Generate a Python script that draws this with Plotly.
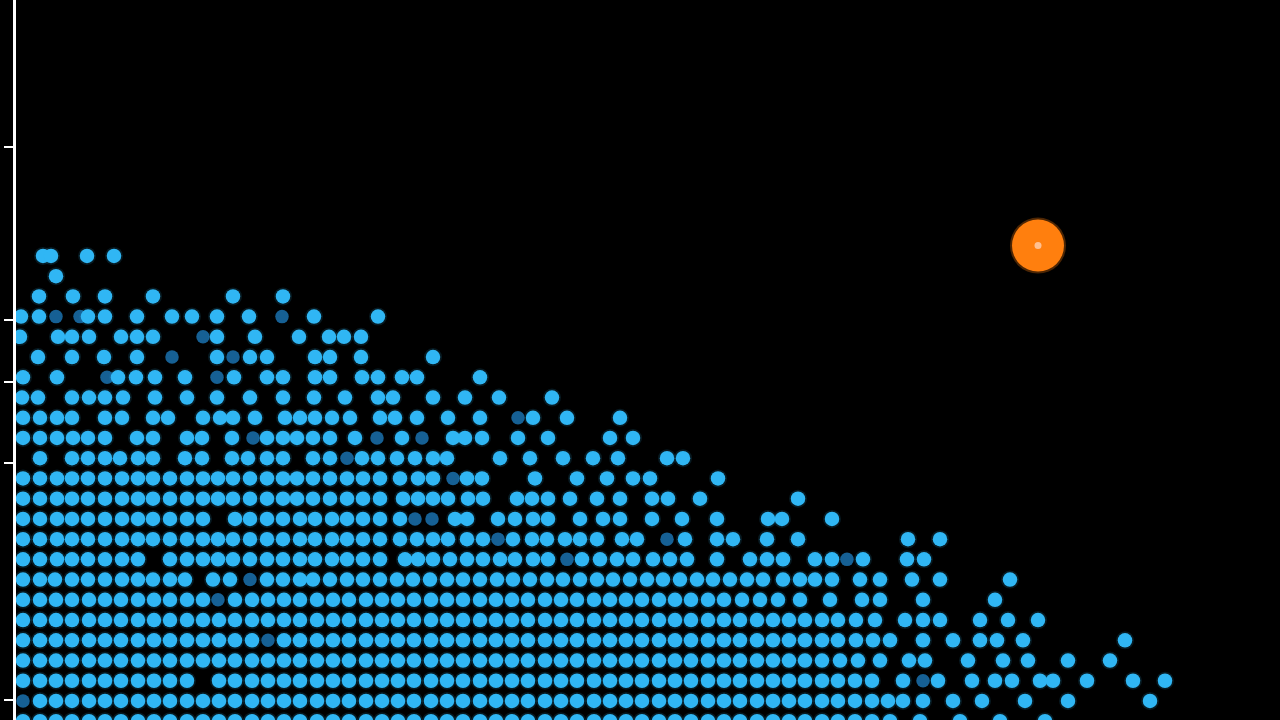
import plotly.graph_objects as go

# ---- Data: x position (value units) of every dot, one list per stacked row (row 0 = bottom) ----
row_00 = [23, 40, 56, 72, 89, 105, 121, 138, 154, 170, 187, 203, 219, 235, 252, 268, 284, 300, 317, 333,
          349, 366, 382, 398, 414, 431, 447, 463, 480, 496, 512, 528, 545, 561, 577, 594, 610, 626, 642, 659,
          675, 691, 708, 724, 740, 757, 773, 789, 805, 822, 838, 855, 872, 890, 920, 960, 1000, 1045]
row_01 = [40, 56, 72, 89, 105, 121, 138, 154, 170, 187, 203, 219, 235, 252, 268, 284, 300, 317, 333, 349,
          366, 382, 398, 414, 431, 447, 463, 480, 496, 512, 528, 545, 561, 577, 594, 610, 626, 642, 659, 675,
          691, 708, 724, 740, 757, 773, 789, 805, 822, 838, 855, 872, 888, 903, 923, 953, 982, 1025, 1068, 1150]
row_02 = [23, 40, 56, 72, 89, 105, 121, 138, 154, 170, 187, 219, 235, 252, 268, 284, 300, 317, 333, 349,
          366, 382, 398, 414, 431, 447, 463, 480, 496, 512, 528, 545, 561, 577, 594, 610, 626, 642, 659, 675,
          691, 708, 724, 740, 757, 773, 789, 805, 822, 838, 855, 872, 903, 938, 972, 995, 1012, 1040, 1053,
          1087, 1133, 1165]
row_03 = [23, 40, 56, 72, 89, 105, 121, 138, 154, 170, 187, 203, 219, 235, 252, 268, 284, 300, 317, 333,
          349, 366, 382, 398, 414, 431, 447, 463, 480, 496, 512, 528, 545, 561, 577, 594, 610, 626, 642, 659,
          675, 691, 708, 724, 740, 757, 773, 789, 805, 822, 840, 858, 880, 909, 925, 968, 1003, 1028, 1068, 1110]
row_04 = [23, 40, 56, 72, 89, 105, 121, 138, 154, 170, 187, 203, 219, 235, 252, 284, 300, 317, 333, 349,
          366, 382, 398, 414, 431, 447, 463, 480, 496, 512, 528, 545, 561, 577, 594, 610, 626, 642, 659, 675,
          691, 708, 724, 740, 757, 773, 789, 805, 822, 838, 856, 873, 890, 923, 953, 980, 997, 1023, 1125]
row_05 = [23, 40, 56, 72, 89, 105, 121, 138, 154, 170, 187, 203, 219, 235, 252, 268, 284, 300, 317, 333,
          349, 366, 382, 398, 414, 431, 447, 463, 480, 496, 512, 528, 545, 561, 577, 594, 610, 626, 642, 659,
          675, 691, 708, 724, 740, 757, 773, 789, 805, 822, 838, 856, 875, 905, 923, 940, 980, 1008, 1038]
row_06 = [23, 40, 56, 72, 89, 105, 121, 138, 154, 170, 187, 203, 235, 252, 268, 284, 300, 317, 333, 349,
          366, 382, 398, 414, 431, 447, 463, 480, 496, 512, 528, 545, 561, 577, 594, 610, 626, 642, 659, 675,
          691, 708, 724, 742, 760, 778, 800, 830, 862, 880, 923, 995]
row_07 = [23, 40, 55, 72, 88, 105, 122, 138, 153, 170, 185, 213, 230, 267, 283, 300, 313, 330, 347, 363,
          380, 397, 413, 430, 447, 463, 480, 497, 513, 530, 547, 563, 580, 597, 613, 630, 647, 663, 680, 697,
          713, 730, 747, 763, 783, 800, 815, 832, 860, 880, 912, 940, 1010]
row_08 = [23, 40, 57, 72, 88, 105, 122, 138, 170, 187, 203, 218, 233, 250, 267, 283, 300, 315, 332, 347,
          363, 380, 405, 418, 433, 450, 467, 483, 500, 515, 533, 548, 582, 600, 617, 633, 653, 670, 687, 717,
          750, 767, 783, 815, 832, 863, 907, 924]
row_09 = [23, 40, 57, 72, 88, 105, 122, 138, 153, 170, 187, 203, 218, 233, 250, 267, 283, 300, 315, 332,
          347, 363, 380, 400, 417, 433, 448, 467, 483, 513, 532, 547, 565, 580, 597, 622, 637, 685, 717, 733,
          767, 798, 908, 940]
row_10 = [23, 40, 57, 72, 88, 105, 122, 138, 153, 170, 187, 203, 235, 250, 267, 283, 300, 315, 332, 347,
          363, 380, 400, 455, 467, 498, 515, 533, 548, 580, 603, 620, 652, 682, 717, 768, 782, 832]
row_11 = [23, 40, 57, 72, 88, 105, 122, 138, 153, 170, 187, 203, 218, 233, 250, 267, 283, 297, 313, 330,
          347, 363, 380, 403, 418, 433, 448, 468, 483, 517, 532, 548, 570, 597, 620, 652, 668, 700, 798]
row_12 = [23, 40, 57, 72, 88, 105, 122, 138, 153, 170, 187, 203, 218, 233, 250, 267, 283, 297, 313, 330,
          347, 363, 380, 400, 418, 433, 467, 482, 535, 577, 607, 633, 650, 718]
row_13 = [40, 72, 88, 105, 120, 138, 153, 185, 202, 232, 248, 267, 283, 313, 330, 362, 378, 397, 415, 433,
          447, 500, 530, 563, 593, 618, 667, 683]
row_14 = [23, 40, 57, 73, 88, 105, 137, 153, 187, 202, 232, 267, 283, 297, 313, 330, 355, 402, 453, 465,
          482, 518, 548, 610, 633]
row_15 = [23, 40, 57, 72, 105, 122, 153, 168, 203, 220, 233, 255, 285, 300, 315, 332, 350, 380, 395, 417,
          448, 480, 533, 567, 620]
row_16 = [22, 38, 72, 89, 105, 123, 155, 187, 217, 250, 283, 314, 345, 378, 393, 433, 465, 499, 552]
row_17 = [23, 57, 118, 136, 155, 185, 234, 267, 283, 315, 330, 362, 378, 402, 417, 480]
row_18 = [38, 72, 104, 137, 217, 250, 267, 315, 330, 361, 433]
row_19 = [20, 58, 72, 89, 121, 137, 153, 217, 255, 299, 329, 344, 361]
row_20 = [21, 39, 88, 105, 137, 172, 192, 217, 249, 314, 378]
row_21 = [39, 73, 105, 153, 233, 283]
row_22 = [56]
row_23 = [43, 51, 87, 114]

# fainter (out-of-focus) dots: x value and row index
faint_x = [56, 80, 282, 203, 172, 233, 107, 217, 518, 253, 377, 422, 347, 453, 415, 432, 498, 667,
           567, 847, 250, 218, 268, 23, 923]
faint_row = [20, 20, 20, 19, 18, 18, 17, 17, 15, 14, 14, 14, 13, 12, 10, 10, 9, 9,
             8, 8, 7, 6, 4, 1, 2]

# highlighted point
highlight_x = [1038]
highlight_y = [23.51]

# y-axis tick positions (labels not shown in the view)
y_ticks = [1.05, 12.76, 16.77, 19.83, 28.38]

rows = [row_00, row_01, row_02, row_03, row_04, row_05, row_06, row_07, row_08, row_09, row_10, row_11,
        row_12, row_13, row_14, row_15, row_16, row_17, row_18, row_19, row_20, row_21, row_22, row_23]

xs, ys = [], []
for k, r in enumerate(rows):
    for v in r:
        xs.append(v)
        ys.append(k)

BLUE = "#30b6f4"

fig = go.Figure()
# soft halo for glow
fig.add_trace(go.Scatter(x=xs, y=ys, mode="markers", hoverinfo="skip",
                         marker=dict(size=18, color=BLUE, opacity=0.14, line=dict(width=0))))
fig.add_trace(go.Scatter(x=faint_x, y=faint_row, mode="markers", hoverinfo="skip",
                         marker=dict(size=13.5, color="#1d80c6", opacity=0.75, line=dict(width=0))))
fig.add_trace(go.Scatter(x=xs, y=ys, mode="markers",
                         marker=dict(size=14.5, color=BLUE, line=dict(width=0))))
fig.add_trace(go.Scatter(x=highlight_x, y=highlight_y, mode="markers", hoverinfo="skip",
                         marker=dict(size=56, color="#ff7f0e", opacity=0.3, line=dict(width=0))))
fig.add_trace(go.Scatter(x=highlight_x, y=highlight_y, mode="markers",
                         marker=dict(size=52, color="#ff7f0e", line=dict(width=0))))
fig.add_trace(go.Scatter(x=highlight_x, y=highlight_y, mode="markers", hoverinfo="skip",
                         marker=dict(size=7, color="#ffc8a0", opacity=0.9, line=dict(width=0))))

fig.update_layout(
    width=1280, height=720,
    margin=dict(l=16, r=0, t=0, b=0),
    paper_bgcolor="black", plot_bgcolor="black",
    showlegend=False,
    xaxis=dict(range=[16, 1280], visible=False, showgrid=False, zeroline=False),
    yaxis=dict(range=[0.06, 35.65], showgrid=False, zeroline=False,
               showline=True, linecolor="white", linewidth=3,
               ticks="outside", tickcolor="white", ticklen=9, tickwidth=2,
               tickvals=y_ticks, ticktext=["" for _ in y_ticks]),
)

fig.write_html(
    "out.html",
    config={"displayModeBar": False},
    post_script="document.body.style.margin='0';document.body.style.background='black';"
                "document.documentElement.style.background='black';document.body.style.overflow='hidden';",
)
